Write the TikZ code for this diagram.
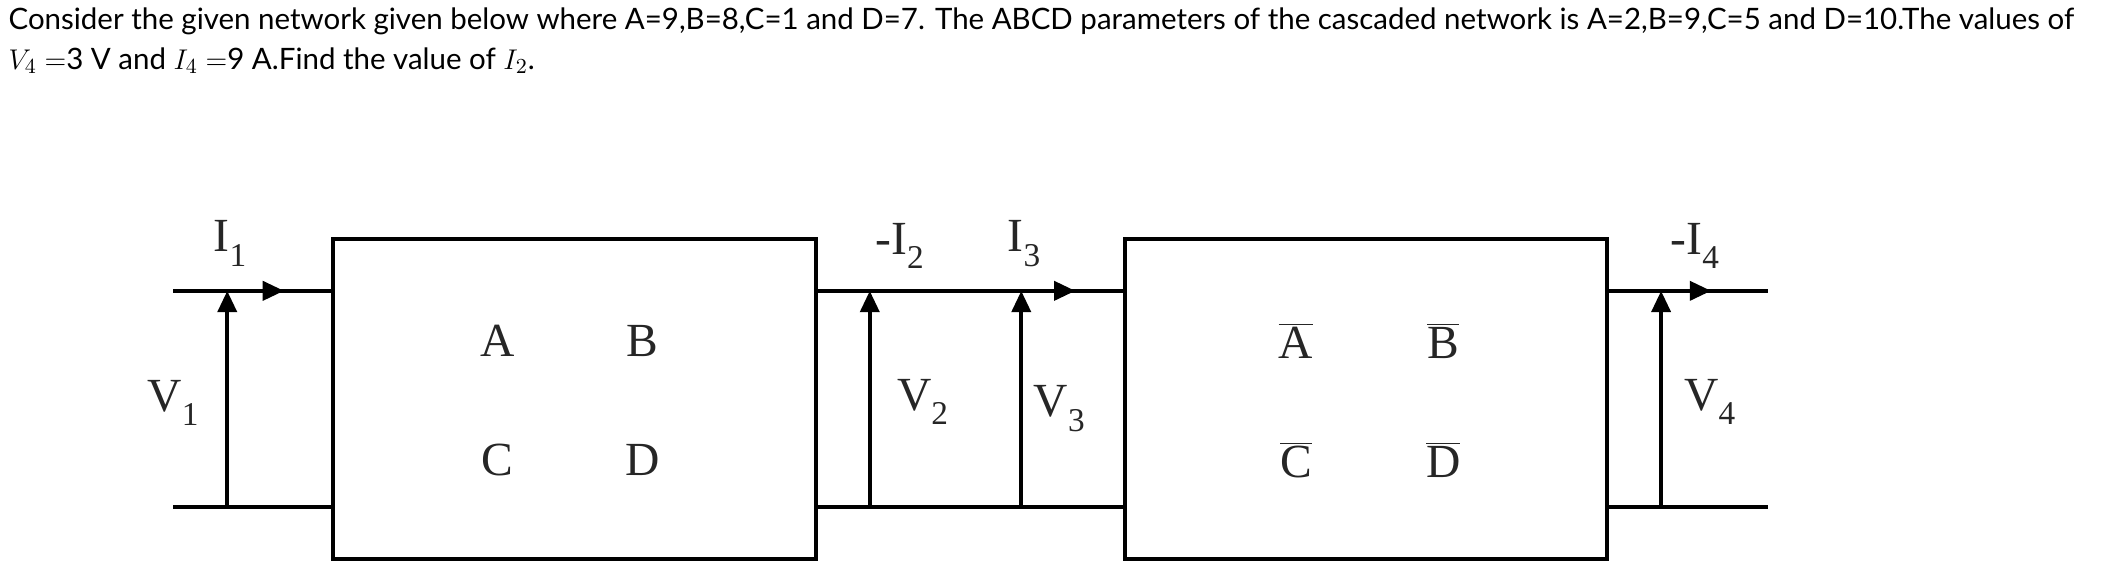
\documentclass[tikz,border=0pt]{standalone}
\usepackage{fontspec}
\setmainfont{Lato}
\newfontfamily\serif{Liberation Serif}
\usetikzlibrary{arrows.meta}
\newcommand{\lsub}[1]{\raisebox{-0.3em}{\serif\fontsize{14}{14}\selectfont #1}}
\begin{document}
\begin{tikzpicture}[x=0.02cm,y=-0.02cm,
  wire/.style={line width=1.7pt},
  arr/.style={line width=1.7pt,-{Triangle[length=9pt,width=8pt]}},
  lab/.style={font=\serif\fontsize{20}{20}\selectfont,inner sep=0pt,text=black!85},
  bx/.style={draw,line width=1.7pt}]
\useasboundingbox (0,0) rectangle (1568,434);
\node[anchor=west,inner sep=0pt,font=\fontsize{12.4}{14}\selectfont] (t1) at (6,16) {Consider the given network given below where A=9,B=8,C=1 and D=7. The ABCD parameters of the cascaded network is A=2,B=9,C=5 and D=10.The values of};
\node[anchor=west,inner sep=0pt,font=\fontsize{12.4}{14}\selectfont] (t2) at (6,45) {$V_4$ $=$3 V and $I_4$ $=$9 A.Find the value of $I_2$.};
\draw[bx] (246,177) rectangle (603,413);
\draw[bx] (832,177) rectangle (1188,413);
\coordinate (a1) at (128,215); \coordinate (a2) at (246,215);
\coordinate (b1) at (128,375); \coordinate (b2) at (246,375);
\coordinate (c1) at (603,215); \coordinate (c2) at (832,215);
\coordinate (d1) at (603,375); \coordinate (d2) at (832,375);
\coordinate (e1) at (1188,215); \coordinate (e2) at (1307,215);
\coordinate (f1) at (1188,375); \coordinate (f2) at (1307,375);
\draw[wire] (a1)--(a2); \draw[wire] (b1)--(b2);
\draw[wire] (c1)--(c2); \draw[wire] (d1)--(d2);
\draw[wire] (e1)--(e2); \draw[wire] (f1)--(f2);
\coordinate (h1) at (188,215); \coordinate (h1e) at (210,215);
\draw[arr] (h1)--(h1e);
\coordinate (h2) at (775,215); \coordinate (h2e) at (795,215);
\draw[arr] (h2)--(h2e);
\coordinate (h3) at (1244,215); \coordinate (h3e) at (1265,215);
\draw[arr] (h3)--(h3e);
\coordinate (v1b) at (168,375); \coordinate (v1t) at (168,215);
\draw[arr] (v1b)--(v1t);
\coordinate (v2b) at (643,375); \coordinate (v2t) at (643,215);
\draw[arr] (v2b)--(v2t);
\coordinate (v3b) at (755,375); \coordinate (v3t) at (755,215);
\draw[arr] (v3b)--(v3t);
\coordinate (v4b) at (1228,375); \coordinate (v4t) at (1228,215);
\draw[arr] (v4b)--(v4t);
\node[lab] (I1) at (170,180) {I\lsub{1}};
\node[lab] (I2) at (665,182) {-I\lsub{2}};
\node[lab] (I3) at (757,180) {I\lsub{3}};
\node[lab] (I4) at (1253,182) {-I\lsub{4}};
\node[lab] (V1) at (128,298) {V\lsub{1}};
\node[lab] (V2) at (682,297) {V\lsub{2}};
\node[lab] (V3) at (783,302) {V\lsub{3}};
\node[lab] (V4) at (1264,297) {V\lsub{4}};
\node[lab] (A) at (368,252) {A};
\node[lab] (B) at (475,252) {B};
\node[lab] (C) at (368,340) {C};
\node[lab] (D) at (475,340) {D};
\node[lab] (Ab) at (958,252) {$\overline{\mbox{A}}$};
\node[lab] (Bb) at (1067,252) {$\overline{\mbox{B}}$};
\node[lab] (Cb) at (958,340) {$\overline{\mbox{C}}$};
\node[lab] (Db) at (1067,340) {$\overline{\mbox{D}}$};
\end{tikzpicture}
\end{document}
